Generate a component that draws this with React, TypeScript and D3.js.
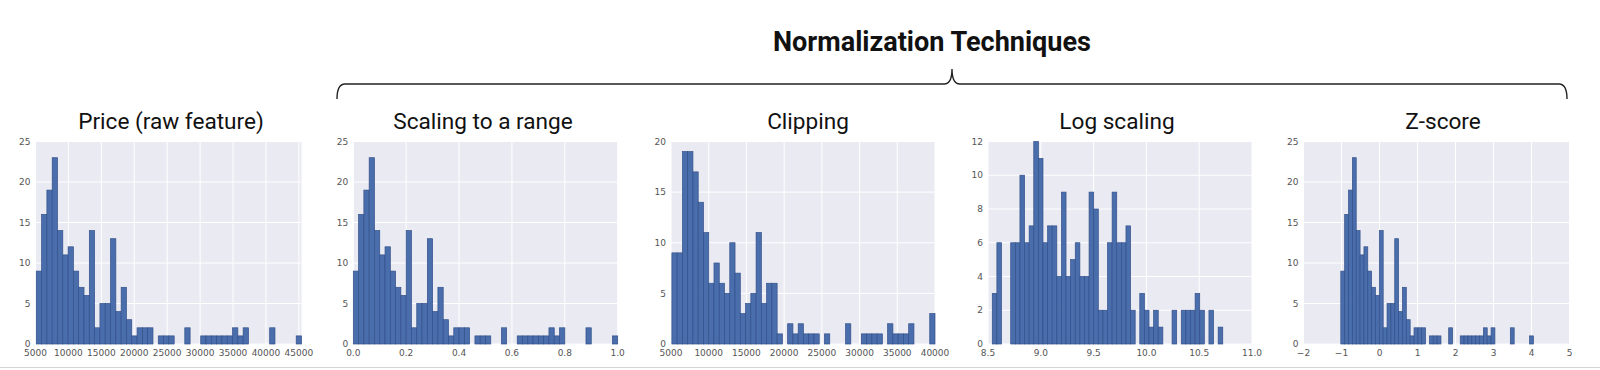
import React from 'react';
import * as d3 from 'd3';

// ---- Data (histogram counts, 50 bins each) ----
const priceCounts = [9, 16, 19, 23, 14, 11, 12, 9, 7, 6, 14, 2, 5, 5, 13, 4, 7, 3, 1, 2, 2, 2, 0, 1, 1, 1, 0, 0, 2, 0, 0, 1, 1, 1, 1, 1, 1, 2, 1, 2, 0, 0, 0, 0, 2, 0, 0, 0, 0, 1];
const clippedCounts = [9, 9, 19, 19, 17, 14, 11, 6, 8, 6, 5, 10, 7, 3, 4, 5, 11, 4, 6, 6, 1, 0, 2, 1, 2, 1, 1, 1, 0, 1, 0, 0, 0, 2, 0, 0, 1, 1, 1, 1, 0, 2, 1, 1, 1, 2, 0, 0, 0, 3];
const logCounts = [3, 6, 0, 0, 6, 6, 10, 6, 7, 12, 11, 6, 7, 7, 4, 9, 4, 5, 6, 4, 4, 9, 8, 2, 2, 6, 9, 6, 6, 7, 2, 0, 3, 2, 1, 2, 1, 0, 0, 2, 0, 2, 2, 2, 3, 2, 0, 2, 0, 1];

// bin extents [min, max] of each histogram
const priceBinRange = [5118, 45400];
const scaledBinRange = [0, 1];
const clippedBinRange = [5118, 40000];
const logBinRange = [8.5405, 10.7232];
const zBinRange = [-1.018, 4.051];

// axis domains and ticks
const priceDomain = [5000, 45400];
const scaledDomain = [0, 1];
const clippedDomain = [5000, 40000];
const logDomain = [8.5, 11.0];
const zDomain = [-2, 5];

const priceTicks = [5000, 10000, 15000, 20000, 25000, 30000, 35000, 40000, 45000];
const scaledTicks = [0, 0.2, 0.4, 0.6, 0.8, 1.0];
const clippedTicks = [5000, 10000, 15000, 20000, 25000, 30000, 35000, 40000];
const logTicks = [8.5, 9.0, 9.5, 10.0, 10.5, 11.0];
const zTicks = [-2, -1, 0, 1, 2, 3, 4, 5];

const countTicks25 = [0, 5, 10, 15, 20, 25];
const countTicks20 = [0, 5, 10, 15, 20];
const countTicks12 = [0, 2, 4, 6, 8, 10, 12];

const panelTitles = ['Price (raw feature)', 'Scaling to a range', 'Clipping', 'Log scaling', 'Z-score'];
const mainTitle = 'Normalization Techniques';

const fmtInt = d3.format('d');
const fmt1 = d3.format('.1f');
const fmtMinus = (d: number) => (d < 0 ? '\u2212' + Math.abs(d) : String(d));

const TOP = 141.5;
const BOTTOM = 344;

const panels = [
  { title: panelTitles[0], counts: priceCounts, bins: priceBinRange, domain: priceDomain, xt: priceTicks, yt: countTicks25, ymax: 25, fmt: fmtInt, x0: 35.5, x1: 301.5, tx: 171 },
  { title: panelTitles[1], counts: priceCounts, bins: scaledBinRange, domain: scaledDomain, xt: scaledTicks, yt: countTicks25, ymax: 25, fmt: fmt1, x0: 353.3, x1: 617.7, tx: 483 },
  { title: panelTitles[2], counts: clippedCounts, bins: clippedBinRange, domain: clippedDomain, xt: clippedTicks, yt: countTicks20, ymax: 20, fmt: fmtInt, x0: 671, x1: 935, tx: 808 },
  { title: panelTitles[3], counts: logCounts, bins: logBinRange, domain: logDomain, xt: logTicks, yt: countTicks12, ymax: 12, fmt: fmt1, x0: 988, x1: 1252, tx: 1117 },
  { title: panelTitles[4], counts: priceCounts, bins: zBinRange, domain: zDomain, xt: zTicks, yt: countTicks25, ymax: 25, fmt: fmtMinus, x0: 1303.5, x1: 1569.5, tx: 1443 },
];

function Panel({ p }: { p: any }) {
  const xs = d3.scaleLinear().domain(p.domain).range([p.x0, p.x1]);
  const ys = d3.scaleLinear().domain([0, p.ymax]).range([BOTTOM, TOP]);
  const n = p.counts.length;
  const w = (p.bins[1] - p.bins[0]) / n;
  return (
    <g>
      <rect x={p.x0} y={TOP} width={p.x1 - p.x0} height={BOTTOM - TOP} fill="#eaeaf2" />
      {p.xt.map((t: number) => (
        <line key={'gx' + t} x1={xs(t)} x2={xs(t)} y1={TOP} y2={BOTTOM} stroke="#ffffff" strokeWidth={1} />
      ))}
      {p.yt.map((t: number) => (
        <line key={'gy' + t} x1={p.x0} x2={p.x1} y1={ys(t)} y2={ys(t)} stroke="#ffffff" strokeWidth={1} />
      ))}
      {p.counts.map((c: number, i: number) => {
        if (c === 0) return null;
        const lo = p.bins[0] + i * w;
        const hi = lo + w;
        return (
          <rect key={'b' + i} x={xs(lo)} y={ys(c)} width={xs(hi) - xs(lo)} height={ys(0) - ys(c)}
            fill="#4a6eac" stroke="#33508a" strokeWidth={0.7} />
        );
      })}
      {p.xt.map((t: number) => (
        <text key={'tx' + t} x={xs(t)} y={356} textAnchor="middle" fontSize={9} fill="#555"
          fontFamily="DejaVu Sans">{p.fmt(t)}</text>
      ))}
      {p.yt.map((t: number) => (
        <text key={'ty' + t} x={p.x0 - 5} y={ys(t)} dy="0.35em" textAnchor="end" fontSize={9} fill="#555"
          fontFamily="DejaVu Sans">{t}</text>
      ))}
      <text x={p.tx} y={129} textAnchor="middle" fontSize={22.6} fill="#111" fontFamily="Roboto">{p.title}</text>
    </g>
  );
}

export default function App() {
  const bracePath = 'M 337 99 Q 337 84 345 84 L 944 84 Q 952 84 952 69 Q 952 84 960 84 L 1559 84 Q 1567 84 1567 99';
  return (
    <svg width={1600} height={370} style={{ position: 'absolute', left: 0, top: 0, background: '#fff' }}>
      <rect x={0} y={0} width={1600} height={370} fill="#ffffff" />
      <text x={932} y={51} textAnchor="middle" fontSize={27} fontWeight="bold" fill="#111" fontFamily="Roboto"
        textLength={318} lengthAdjust="spacingAndGlyphs">{mainTitle}</text>
      <path d={bracePath} fill="none" stroke="#222" strokeWidth={1.4} />
      {panels.map((p, i) => <Panel key={i} p={p} />)}
      <line x1={0} x2={1600} y1={367.5} y2={367.5} stroke="#d4d4d4" strokeWidth={1} />
    </svg>
  );
}
